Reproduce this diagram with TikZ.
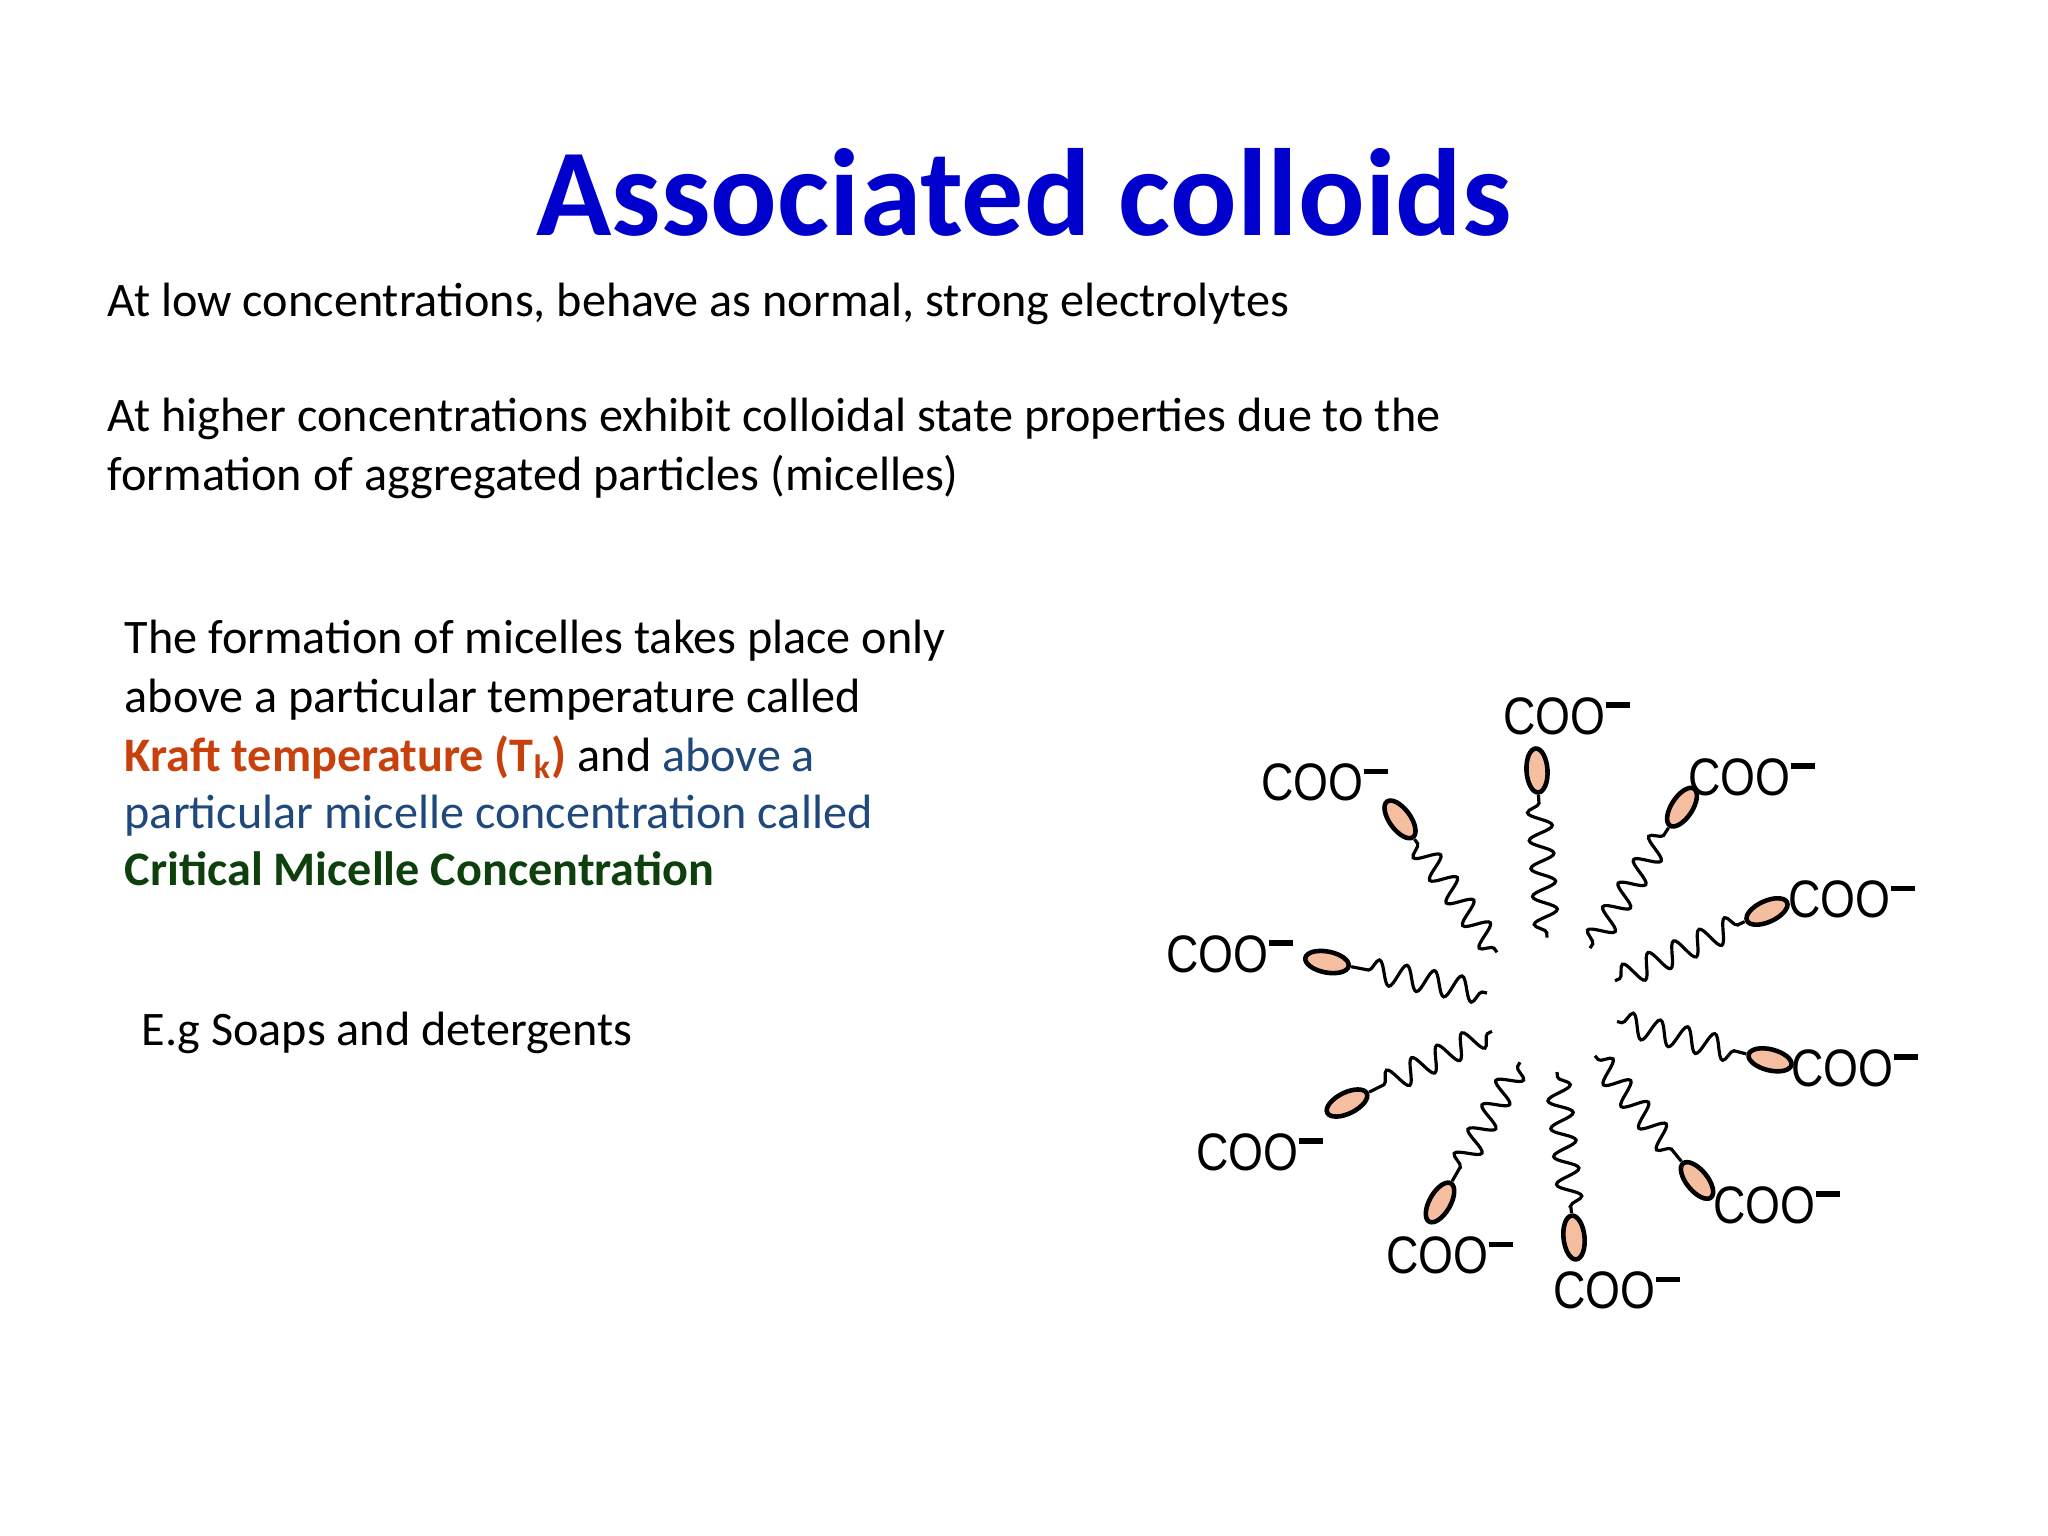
\documentclass[tikz,border=0pt]{standalone}
\usepackage{fontspec}
\setmainfont{Carlito}
\newfontfamily\arialf{Liberation Sans}
\usetikzlibrary{shapes.geometric,decorations.pathmorphing,calc}
\definecolor{titleblue}{RGB}{0,0,204}
\definecolor{kraft}{RGB}{200,65,12}
\definecolor{cmcblue}{RGB}{31,73,125}
\definecolor{cmcgreen}{RGB}{14,64,14}
\definecolor{headfill}{RGB}{246,190,160}
\tikzset{
  body/.style={anchor=base west,inner sep=0pt,font=\fontsize{13.7}{16}\selectfont},
  chain/.style={line width=0.9pt,decorate,decoration={snake,amplitude=1.2mm,segment length=2.8mm,pre length=0.5mm,post length=0.5mm}},
  head/.style={ellipse,draw,line width=1.3pt,fill=headfill,minimum width=0.44cm,minimum height=0.21cm,inner sep=0pt},
  coo/.style={font=\arialf\fontsize{15}{16}\selectfont,inner sep=0pt,xscale=0.85}
}
\newcommand{\coominus}{COO\raisebox{0.95ex}{\rule{0.55em}{0.1em}}}
\begin{document}
\begin{tikzpicture}[x=0.01cm,y=-0.01cm]
\useasboundingbox (0,0) rectangle (2048,1536);
\node[anchor=base,inner sep=0pt,font=\bfseries\fontsize{35.3}{40}\selectfont,text=titleblue] (title) at (1024,235) {Associated colloids};
\node[body] (l1) at (107,316) {At low concentrations, behave as normal, strong electrolytes};
\node[body] (l2) at (107,431) {At higher concentrations exhibit colloidal state properties due to the};
\node[body] (l3) at (107,490) {formation of aggregated particles (micelles)};
\node[body] (p1) at (124,653) {The formation of micelles takes place only};
\node[body] (p2) at (124,712) {above a particular temperature called};
\node[body] (p3) at (124,771) {\textcolor{kraft}{\bfseries Kraft temperature (T\textsubscript{k})} and \textcolor{cmcblue}{above a}};
\node[body,text=cmcblue] (p4) at (124,828) {particular micelle concentration called};
\node[body,text=cmcgreen,font=\bfseries\fontsize{13.7}{16}\selectfont] (p5) at (124,885) {Critical Micelle Concentration};
\node[body] (eg) at (141,1045) {E.g Soaps and detergents};
\foreach \i/\hx/\hy/\ex/\ey/\lx/\ly in {
 1/1537/792/1547/997/1567/725,
 2/1400/852/1497/1015/1325/807,
 3/1682/837/1590/1010/1752/800,
 4/1767/965/1615/1050/1852/950,
 5/1327/1027/1487/1065/1230/1017,
 6/1770/1147/1617/1100/1855/1157,
 7/1347/1200/1492/1112/1260/1260,
 8/1440/1322/1520/1150/1450/1387,
 9/1574/1365/1557/1162/1617/1430,
 10/1697/1295/1595/1142/1777/1325}{
  \coordinate (h\i) at (\hx,{0.815*\hy+125});
  \coordinate (e\i) at (\ex,{0.815*\ey+125});
  \draw[chain] (e\i) -- ($(h\i)!7pt!(e\i)$);
  \path let \p1=($(h\i)-(e\i)$), \n1={atan2(\y1,\x1)} in node[head,rotate=\n1] (hd\i) at (h\i) {};
  \node[coo] (c\i) at (\lx,{0.815*\ly+125}) {\coominus};
}
\end{tikzpicture}
\end{document}
